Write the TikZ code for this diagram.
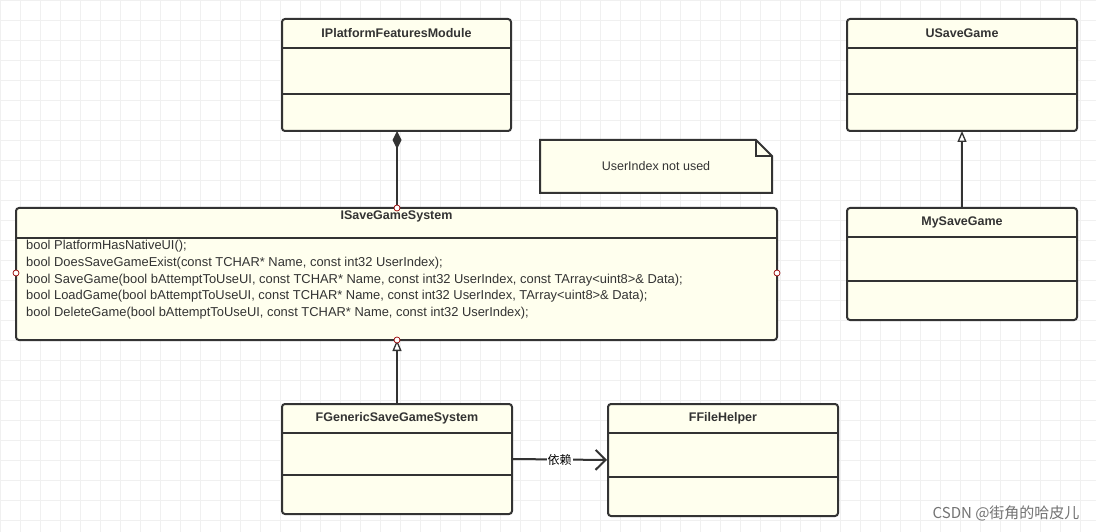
\documentclass[tikz,border=0pt]{standalone}
\usepackage{fontspec}
\setmainfont{Liberation Sans}
\newfontfamily\cjk{Noto Sans CJK SC}
\usetikzlibrary{arrows.meta}
\definecolor{boxfill}{HTML}{FFFFEE}
\definecolor{edge}{HTML}{333333}
\begin{document}
\begin{tikzpicture}[x=1pt,y=-1pt,
  cls/.style={draw=edge,fill=boxfill,line width=2pt,rounded corners=3pt},
  div/.style={draw=edge,line width=2pt},
  ttl/.style={font=\fontsize{12.5}{14}\selectfont\bfseries,text=edge},
  conn/.style={draw=edge,line width=2pt},
  port/.style={circle,draw=red!60!black,fill=white,inner sep=0pt,minimum size=6pt,line width=0.7pt}]
\useasboundingbox (0,0) rectangle (1096,532);
\fill[white] (0,0) rectangle (1096,532);
\draw[black!6,line width=0.7pt] (0,0) grid[step=20pt] (1096,532);
% IPlatformFeaturesModule
\draw[cls] (282,19) rectangle (511,131);
\draw[div] (282,48) -- (511,48); \draw[div] (282,94) -- (511,94);
\node[ttl] (ipf) at (396.5,33) {IPlatformFeaturesModule};
\coordinate (ipfb) at (397,131);
% USaveGame
\draw[cls] (847,19) rectangle (1077,131);
\draw[div] (847,48) -- (1077,48); \draw[div] (847,94) -- (1077,94);
\node[ttl] (usg) at (962,33) {USaveGame};
\coordinate (usgb) at (962,131);
% Note
\draw[draw=edge,fill=boxfill,line width=2pt] (540,140) -- (756,140) -- (772,156) -- (772,193) -- (540,193) -- cycle;
\draw[draw=edge,line width=1.2pt] (756,140) -- (756,156) -- (772,156);
\node[font=\fontsize{12.5}{14}\selectfont,text=edge] (note) at (656,166) {UserIndex not used};
% ISaveGameSystem
\draw[cls] (16,208) rectangle (777,340);
\draw[div] (16,238) -- (777,238);
\node[ttl] (isg) at (396.5,216) {ISaveGameSystem};
\node[anchor=north west,align=left,inner sep=0pt,font=\fontsize{12.9}{16.8}\selectfont,text=edge] (ops) at (26,240)
{bool PlatformHasNativeUI();\\
bool DoesSaveGameExist(const TCHAR* Name, const int32 UserIndex);\\
bool SaveGame(bool bAttemptToUseUI, const TCHAR* Name, const int32 UserIndex, const TArray<uint8>\& Data);\\
bool LoadGame(bool bAttemptToUseUI, const TCHAR* Name, const int32 UserIndex, TArray<uint8>\& Data);\\
bool DeleteGame(bool bAttemptToUseUI, const TCHAR* Name, const int32 UserIndex);};
\coordinate (isgt) at (397,208);
\coordinate (isgb) at (397,340);
% MySaveGame
\draw[cls] (847,208) rectangle (1077,320);
\draw[div] (847,237) -- (1077,237); \draw[div] (847,281) -- (1077,281);
\node[ttl] (msg) at (962,222) {MySaveGame};
\coordinate (msgt) at (962,208);
% FGenericSaveGameSystem
\draw[cls] (282,404) rectangle (512,514);
\draw[div] (282,433) -- (512,433); \draw[div] (282,475) -- (512,475);
\node[ttl] (fgs) at (397,418) {FGenericSaveGameSystem};
\coordinate (fgst) at (397,404);
\coordinate (fgsr) at (512,459);
% FFileHelper
\draw[cls] (608,404) rectangle (838,516);
\draw[div] (608,433) -- (838,433); \draw[div] (608,477) -- (838,477);
\node[ttl] (ffh) at (723,418) {FFileHelper};
\coordinate (ffhl) at (607,460);
% connectors
\draw[conn,{Diamond[length=18pt,width=9pt,fill=edge]}-] (ipfb) -- (isgt);
\draw[conn,-{Triangle[open,length=11pt,width=9pt,line width=1.3pt,fill=white]}] (fgst) -- (isgb);
\draw[conn,-{Triangle[open,length=11pt,width=9pt,line width=1.3pt,fill=white]}] (msgt) -- (usgb);
\draw[conn,-{Straight Barb[length=10pt,width=20pt,line width=2pt]}] (fgsr) -- (ffhl)
  node[pos=0.5,fill=white,inner sep=1pt,font=\cjk\fontsize{12}{13}\selectfont,text=black] (dep) {依赖};
% ports
\node[port] (p1) at (397,208) {};
\node[port] (p2) at (16,273) {};
\node[port] (p3) at (777,273) {};
\node[port] (p4) at (397,340) {};
% watermark
\node[anchor=east,font=\cjk\fontsize{15}{17}\selectfont,text=black!55] (wm) at (1083,513) {CSDN @街角的哈皮儿};
\end{tikzpicture}
\end{document}
